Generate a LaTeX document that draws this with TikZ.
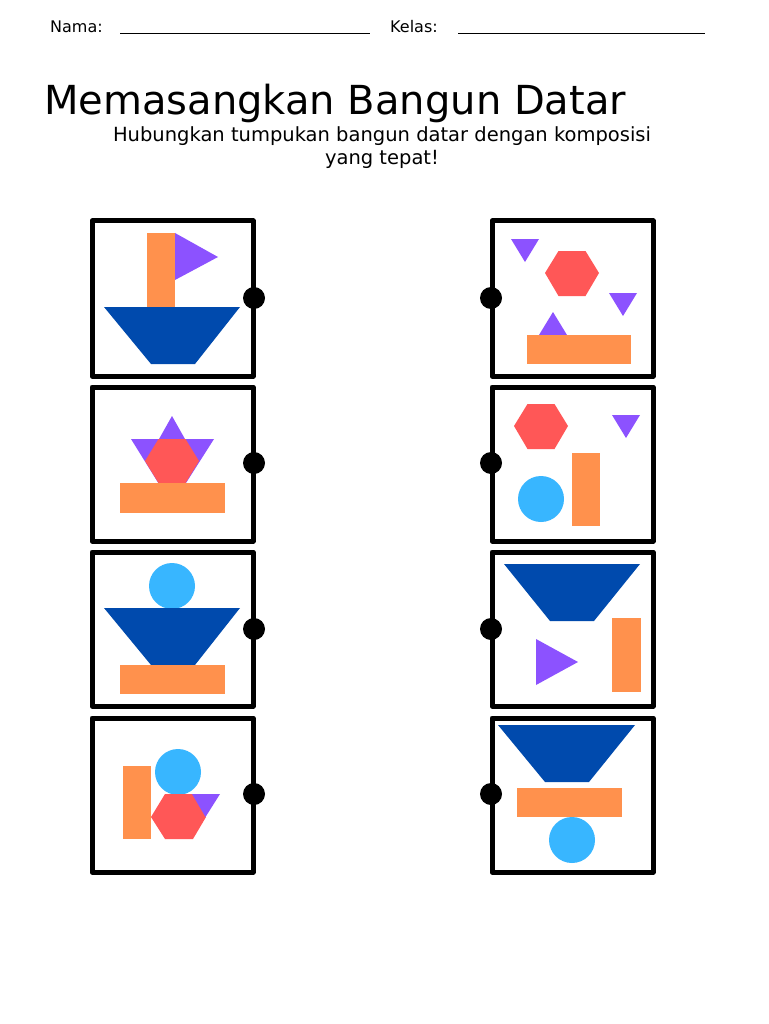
\documentclass[tikz,border=0pt]{standalone}
\usepackage{fontspec}
\setmainfont{DejaVu Sans}
\definecolor{cor}{HTML}{FF914D}
\definecolor{cpu}{HTML}{8C52FF}
\definecolor{cbl}{HTML}{004AAD}
\definecolor{cre}{HTML}{FF5757}
\definecolor{ccy}{HTML}{38B6FF}
\begin{document}
\begin{tikzpicture}[x=1pt,y=-1pt,
  frame/.style={draw=black,line width=5pt,line join=round},
  dotc/.style={circle,fill=black,inner sep=0pt,minimum size=22pt},
  txt/.style={inner sep=0pt,anchor=base west}]
\useasboundingbox (0,0) rectangle (768,1024);
\fill[white] (0,0) rectangle (768,1024);
% header
\node[txt,font=\fontsize{16}{19}\selectfont] (nama) at (50,33) {Nama:};
\draw[line width=1pt] (120,34) -- (370,34);
\node[txt,font=\fontsize{16}{19}\selectfont] (kelas) at (390,33) {Kelas:};
\draw[line width=1pt] (458,34) -- (705,34);
\node[txt,font=\fontsize{40}{48}\selectfont] (title) at (44,115) {Memasangkan Bangun Datar};
\node[align=center,inner sep=0pt,anchor=north,font=\fontsize{19.5}{23}\selectfont] (sub) at (382,126) {Hubungkan tumpukan bangun datar dengan komposisi\\yang tepat!};
% frames
\foreach \t/\b [count=\i] in {221/376,387/541,552/706,718/872}{
  \draw[frame] (92,\t) rectangle (253,\b);
  \draw[frame] (492,\t) rectangle (653,\b);
}
% Left 1: boat
\fill[cor] (147,233) rectangle (175,307);
\fill[cpu] (175,233) -- (175,280) -- (218,257) -- cycle;
\fill[cbl] (104,307) -- (240,307) -- (195,364) -- (151,364) -- cycle;
% Left 2
\fill[cpu] (172,416) -- (150,455) -- (194,455) -- cycle;
\fill[cpu] (131,439) -- (214,439) -- (172,505) -- cycle;
\fill[cre] (145,461) -- (158.5,439) -- (185.5,439) -- (199,461) -- (185.5,483) -- (158.5,483) -- cycle;
\fill[cor] (120,483) rectangle (225,513);
% Left 3
\fill[ccy] (172,586) circle (23);
\fill[cbl] (104,608) -- (240,608) -- (195,665) -- (151,665) -- cycle;
\fill[cor] (120,665) rectangle (225,694);
% Left 4
\fill[cor] (123,766) rectangle (151,839);
\fill[ccy] (178,772) circle (23);
\fill[cre] (151,817) -- (165,794) -- (193,794) -- (206,817) -- (193,839) -- (165,839) -- cycle;
\fill[cpu] (192,794) -- (220,794) -- (205.5,817) -- cycle;
% Right 1
\fill[cpu] (511,239) -- (539,239) -- (525,262) -- cycle;
\fill[cre] (545,273) -- (558.5,251) -- (585.5,251) -- (599,273) -- (585.5,296) -- (558.5,296) -- cycle;
\fill[cpu] (609,293) -- (637,293) -- (623,316) -- cycle;
\fill[cpu] (539,335) -- (567,335) -- (553,312) -- cycle;
\fill[cor] (527,335) rectangle (631,364);
% Right 2
\fill[cre] (514,426) -- (527.5,404) -- (554.5,404) -- (568,426) -- (554.5,449) -- (527.5,449) -- cycle;
\fill[cpu] (612,415) -- (640,415) -- (626,438) -- cycle;
\fill[ccy] (541,499) circle (23);
\fill[cor] (572,453) rectangle (600,526);
% Right 3
\fill[cbl] (504,564) -- (640,564) -- (594,621) -- (550,621) -- cycle;
\fill[cpu] (536,639) -- (536,685) -- (578,662) -- cycle;
\fill[cor] (612,618) rectangle (641,692);
% Right 4
\fill[cbl] (498,725) -- (635,725) -- (589,782) -- (545,782) -- cycle;
\fill[cor] (517,788) rectangle (622,817);
\fill[ccy] (572,840) circle (23);
% dots
\node[dotc] (l1) at (254,298) {};
\node[dotc] (l2) at (254,463) {};
\node[dotc] (l3) at (254,629) {};
\node[dotc] (l4) at (254,794) {};
\node[dotc] (r1) at (491,298) {};
\node[dotc] (r2) at (491,463) {};
\node[dotc] (r3) at (491,629) {};
\node[dotc] (r4) at (491,794) {};
\end{tikzpicture}
\end{document}
